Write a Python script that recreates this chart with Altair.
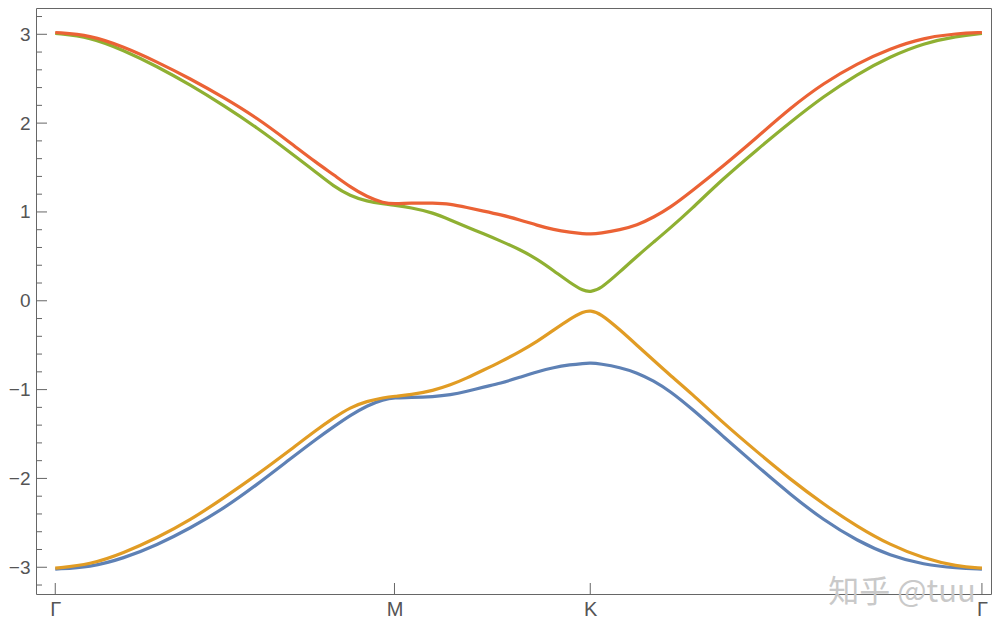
"""Band structure along the Gamma-M-K-Gamma path, redrawn with Altair."""
import pandas as pd
import altair as alt

# positions along the k-path (Gamma=0, M=3.628, K=5.722, Gamma=9.911)
k = [0, 0.374, 0.730, 1.088, 1.444, 1.800, 2.157, 2.513, 2.799, 2.976,
     3.155, 3.334, 3.511, 3.628, 3.797, 4.046, 4.225, 4.403, 4.581, 4.759,
     4.973, 5.152, 5.329, 5.508, 5.650, 5.722, 5.829, 6.043, 6.221, 6.399,
     6.578, 6.791, 7.148, 7.505, 7.861, 8.217, 8.574, 8.930, 9.287, 9.644,
     9.911]

band_blue = [-3.02, -3.00, -2.90, -2.75, -2.56, -2.34, -2.07, -1.78, -1.55, -1.42,
             -1.29, -1.18, -1.11, -1.09, -1.09, -1.08, -1.06, -1.02, -0.97, -0.93,
             -0.86, -0.80, -0.75, -0.72, -0.705, -0.70, -0.71, -0.75, -0.81, -0.90,
             -1.02, -1.20, -1.53, -1.86, -2.18, -2.47, -2.70, -2.87, -2.97, -3.01,
             -3.02]
band_gold = [-3.01, -2.97, -2.84, -2.67, -2.47, -2.22, -1.96, -1.68, -1.45, -1.32,
             -1.20, -1.13, -1.09, -1.075, -1.06, -1.01, -0.95, -0.87, -0.78, -0.69,
             -0.57, -0.46, -0.33, -0.20, -0.12, -0.11, -0.14, -0.33, -0.50, -0.67,
             -0.84, -1.03, -1.38, -1.70, -2.01, -2.29, -2.54, -2.75, -2.90, -2.99,
             -3.01]
band_green = [3.01, 2.97, 2.82, 2.64, 2.43, 2.20, 1.95, 1.67, 1.44, 1.29,
              1.18, 1.12, 1.09, 1.075, 1.05, 0.99, 0.91, 0.83, 0.755, 0.675,
              0.575, 0.47, 0.34, 0.20, 0.11, 0.10, 0.13, 0.33, 0.50, 0.66,
              0.82, 1.02, 1.38, 1.70, 2.01, 2.30, 2.55, 2.75, 2.90, 2.98,
              3.01]
band_red = [3.02, 2.99, 2.86, 2.69, 2.50, 2.29, 2.06, 1.78, 1.55, 1.42,
            1.28, 1.17, 1.10, 1.09, 1.10, 1.10, 1.09, 1.05, 1.01, 0.97,
            0.91, 0.85, 0.80, 0.77, 0.755, 0.75, 0.76, 0.80, 0.85, 0.94,
            1.05, 1.22, 1.52, 1.84, 2.17, 2.45, 2.67, 2.84, 2.96, 3.01,
            3.02]

band_names = ["b1", "b2", "b3", "b4"]
band_colors = ["#5E81B5", "#E19C24", "#8FB032", "#EB6235"]

sym_k = [0, 3.628, 5.722, 9.911]
major_e = [-3, -2, -1, 0, 1, 2, 3]
minor_e = [-3.2, -2.8, -2.6, -2.4, -2.2, -1.8, -1.6, -1.4, -1.2, -0.8, -0.6, -0.4,
           -0.2, 0.2, 0.4, 0.6, 0.8, 1.2, 1.4, 1.6, 1.8, 2.2, 2.4, 2.6, 2.8, 3.2]
watermark = ["知乎 @tuu"]

frames = []
for name, vals in zip(band_names, [band_blue, band_gold, band_green, band_red]):
    frames.append(pd.DataFrame({"k": k, "E": vals, "band": name}))
df = pd.concat(frames, ignore_index=True)

FONT = "Liberation Sans"
LABEL_COLOR = "#555555"
FRAME = "#666666"
W, H = 955, 586

x_scale = alt.Scale(domain=[-0.206, 10.008], nice=False, zero=False)
y_scale = alt.Scale(domain=[-3.301, 3.296], nice=False, zero=False)

label_expr = ("datum.value < 1 ? 'Γ' : datum.value < 4.5 ? 'M' : "
              "datum.value < 7 ? 'K' : 'Γ'")

x_axis = alt.Axis(values=sym_k, labelExpr=label_expr, title=None, grid=False,
                  ticks=False, tickSize=0, domain=False, labelPadding=5,
                  labelFontSize=20, labelFont=FONT, labelColor=LABEL_COLOR)
y_axis = alt.Axis(values=major_e, format="d", title=None, grid=False,
                  ticks=False, tickSize=0, domain=False, labelPadding=6,
                  labelFontSize=19, labelFont=FONT, labelColor=LABEL_COLOR)

lines = alt.Chart(df).mark_line(strokeWidth=3.2, interpolate="basis").encode(
    x=alt.X("k:Q", scale=x_scale, axis=x_axis),
    y=alt.Y("E:Q", scale=y_scale, axis=y_axis),
    color=alt.Color("band:N", scale=alt.Scale(domain=band_names, range=band_colors),
                    legend=None),
)

# Mathematica-style inward frame ticks
major_ticks = alt.Chart(pd.DataFrame({"E": major_e})).mark_rule(
    color=FRAME, strokeWidth=1).encode(
    y=alt.Y("E:Q", scale=y_scale), x=alt.value(0), x2=alt.value(11))
minor_ticks = alt.Chart(pd.DataFrame({"E": minor_e})).mark_rule(
    color=FRAME, strokeWidth=1).encode(
    y=alt.Y("E:Q", scale=y_scale), x=alt.value(0), x2=alt.value(6))
k_ticks = alt.Chart(pd.DataFrame({"k": sym_k})).mark_rule(
    color=FRAME, strokeWidth=1).encode(
    x=alt.X("k:Q", scale=x_scale), y=alt.value(H), y2=alt.value(H - 11))

mark_text = alt.Chart(pd.DataFrame({"t": watermark})).mark_text(
    font="Noto Sans CJK SC", fontSize=31, color="#c9c9c9", align="center",
    baseline="middle").encode(text="t:N", x=alt.value(866), y=alt.value(585))

chart = alt.layer(major_ticks, minor_ticks, k_ticks, lines, mark_text).properties(
    width=W, height=H, autosize="none",
    padding={"left": 28, "top": 0, "right": 2, "bottom": 26},
).configure_view(stroke=FRAME, strokeWidth=1)

chart.save("out.html", embed_options={"renderer": "svg", "actions": False})
